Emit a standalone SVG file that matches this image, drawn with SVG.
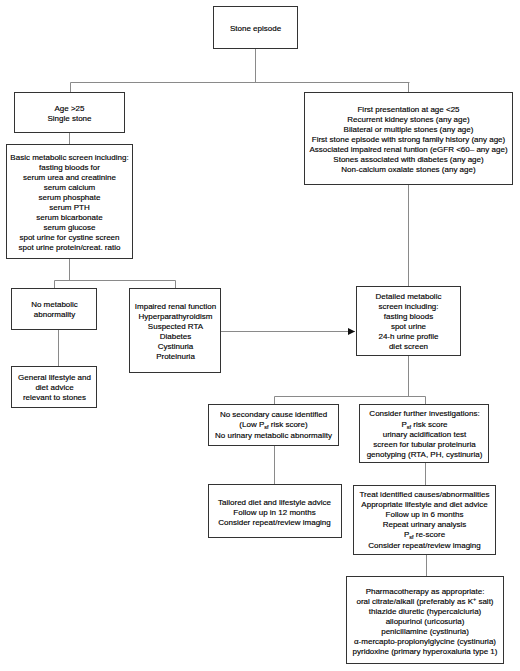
<svg xmlns="http://www.w3.org/2000/svg" width="520" height="671" viewBox="0 0 520 671">
<style>
.box{fill:#fff;stroke:#333;stroke-width:1}
.t{font-family:"Liberation Sans",Arial,sans-serif;font-size:8px;fill:#000;stroke:#000;stroke-width:0.15;text-anchor:middle}
.c{fill:none;stroke:#8a8a8a;stroke-width:1}
</style>
<defs>
<marker id="ah" markerWidth="8" markerHeight="8" refX="7" refY="4" orient="auto" markerUnits="userSpaceOnUse">
<path d="M0,0.5 L7,4 L0,7.5 Z" fill="#111"/>
</marker>
</defs>
<rect width="520" height="671" fill="#fff"/>
<g id="connectors">
<path class="c" d="M255.5,49 V82.5 M70.5,82.5 H409.5 M70.5,82.5 V92 M408.5,82.5 V92"/>
<path class="c" d="M69.5,133 V144"/>
<path class="c" d="M69.5,259 V280.5 M54.5,280.5 H175.5 M54.5,280.5 V288 M175.5,280.5 V288"/>
<path class="c" d="M58.5,330 V366"/>
<path class="c" d="M408.5,185 V286"/>
<path class="c" d="M221,331.5 H355" marker-end="url(#ah)"/>
<path class="c" d="M408.5,356 V396.5 M274.5,396.5 H425.5 M274.5,396.5 V404 M425.5,396.5 V404"/>
<path class="c" d="M274.5,446 V484"/>
<path class="c" d="M425.5,463 V485"/>
<path class="c" d="M426.5,555 V576"/>
</g>
<g id="stone-episode">
<rect class="box" x="213.5" y="6.5" width="84" height="42"/>
<text class="t" x="255.5" y="31">Stone episode</text>
</g>
<g id="age-over-25">
<rect class="box" x="14.5" y="92.5" width="110" height="40"/>
<text class="t" x="69.5" y="111">Age &gt;25</text>
<text class="t" x="69.5" y="121">Single stone</text>
</g>
<g id="basic-screen">
<rect class="box" x="6.5" y="144.5" width="126" height="114"/>
<text class="t" x="69.5" y="160">Basic metabolic screen including:</text>
<text class="t" x="69.5" y="170">fasting bloods for</text>
<text class="t" x="69.5" y="180">serum urea and creatinine</text>
<text class="t" x="69.5" y="190">serum calcium</text>
<text class="t" x="69.5" y="200">serum phosphate</text>
<text class="t" x="69.5" y="210">serum PTH</text>
<text class="t" x="69.5" y="220">serum bicarbonate</text>
<text class="t" x="69.5" y="230">serum glucose</text>
<text class="t" x="69.5" y="240">spot urine for cystine screen</text>
<text class="t" x="69.5" y="250">spot urine protein/creat. ratio</text>
</g>
<g id="high-risk">
<rect class="box" x="304.5" y="92.5" width="208" height="92"/>
<text class="t" x="408.5" y="112">First presentation at age &lt;25</text>
<text class="t" x="408.5" y="122">Recurrent kidney stones (any age)</text>
<text class="t" x="408.5" y="131.5">Bilateral or multiple stones (any age)</text>
<text class="t" x="408.5" y="141.5">First stone episode with strong family history (any age)</text>
<text class="t" x="408.5" y="151.5">Associated impaired renal funtion (eGFR &lt;60– any age)</text>
<text class="t" x="408.5" y="161.5">Stones associated with diabetes (any age)</text>
<text class="t" x="408.5" y="171.5">Non-calcium oxalate stones (any age)</text>
</g>
<g id="no-metabolic">
<rect class="box" x="11.5" y="288.5" width="85" height="41"/>
<text class="t" x="54.5" y="307">No metabolic</text>
<text class="t" x="54.5" y="317">abnormality</text>
</g>
<g id="impaired">
<rect class="box" x="129.5" y="288.5" width="91" height="84"/>
<text class="t" x="175.5" y="309">Impaired renal function</text>
<text class="t" x="175.5" y="319">Hyperparathyroidism</text>
<text class="t" x="175.5" y="329">Suspected RTA</text>
<text class="t" x="175.5" y="339">Diabetes</text>
<text class="t" x="175.5" y="349">Cystinuria</text>
<text class="t" x="175.5" y="359">Proteinuria</text>
</g>
<g id="general-advice">
<rect class="box" x="11.5" y="366.5" width="85" height="41"/>
<text class="t" x="54.5" y="380">General lifestyle and</text>
<text class="t" x="54.5" y="390">diet advice</text>
<text class="t" x="54.5" y="400">relevant to stones</text>
</g>
<g id="detailed-screen">
<rect class="box" x="356.5" y="286.5" width="104" height="69"/>
<text class="t" x="408.5" y="299">Detailed metabolic</text>
<text class="t" x="408.5" y="309">screen including:</text>
<text class="t" x="408.5" y="319">fasting bloods</text>
<text class="t" x="408.5" y="329">spot urine</text>
<text class="t" x="408.5" y="339">24-h urine profile</text>
<text class="t" x="408.5" y="349">diet screen</text>
</g>
<g id="no-secondary">
<rect class="box" x="208.5" y="404.5" width="130" height="41"/>
<text class="t" x="273.5" y="417">No secondary cause identified</text>
<text class="t" x="273.5" y="427">(Low P<tspan font-size="5.5" dy="1.5">sf</tspan><tspan dy="-1.5"> risk score)</tspan></text>
<text class="t" x="273.5" y="438">No urinary metabolic abnormality</text>
</g>
<g id="further-investigations">
<rect class="box" x="359.5" y="404.5" width="129" height="58"/>
<text class="t" x="424.5" y="416">Consider further investigations:</text>
<text class="t" x="424.5" y="427">P<tspan font-size="5.5" dy="1.5">sf</tspan><tspan dy="-1.5"> risk score</tspan></text>
<text class="t" x="424.5" y="437">urinary acidification test</text>
<text class="t" x="424.5" y="447">screen for tubular proteinuria</text>
<text class="t" x="424.5" y="457">genotyping (RTA, PH, cystinuria)</text>
</g>
<g id="tailored">
<rect class="box" x="208.5" y="484.5" width="133" height="53"/>
<text class="t" x="274.5" y="505">Tailored diet and lifestyle advice</text>
<text class="t" x="274.5" y="515">Follow up in 12 months</text>
<text class="t" x="274.5" y="525">Consider repeat/review imaging</text>
</g>
<g id="treat">
<rect class="box" x="353.5" y="485.5" width="142" height="69"/>
<text class="t" x="424.5" y="497">Treat identified causes/abnormalities</text>
<text class="t" x="424.5" y="507">Appropriate lifestyle and diet advice</text>
<text class="t" x="424.5" y="517">Follow up in 6 months</text>
<text class="t" x="424.5" y="527">Repeat urinary analysis</text>
<text class="t" x="424.5" y="537">P<tspan font-size="5.5" dy="1.5">sf</tspan><tspan dy="-1.5"> re-score</tspan></text>
<text class="t" x="424.5" y="548">Consider repeat/review imaging</text>
</g>
<g id="pharmacotherapy">
<rect class="box" x="346.5" y="576.5" width="157" height="87"/>
<text class="t" x="425" y="594">Pharmacotherapy as appropriate:</text>
<text class="t" x="425" y="604">oral citrate/alkali (preferably as K<tspan font-size="5.5" dy="-3">+</tspan><tspan dy="3"> salt)</tspan></text>
<text class="t" x="425" y="614">thiazide diuretic (hypercalciuria)</text>
<text class="t" x="425" y="624">allopurinol (uricosuria)</text>
<text class="t" x="425" y="634">penicillamine (cystinuria)</text>
<text class="t" x="425" y="644">α-mercapto-propionylglycine (cystinuria)</text>
<text class="t" x="425" y="654">pyridoxine (primary hyperoxaluria type 1)</text>
</g>
</svg>
